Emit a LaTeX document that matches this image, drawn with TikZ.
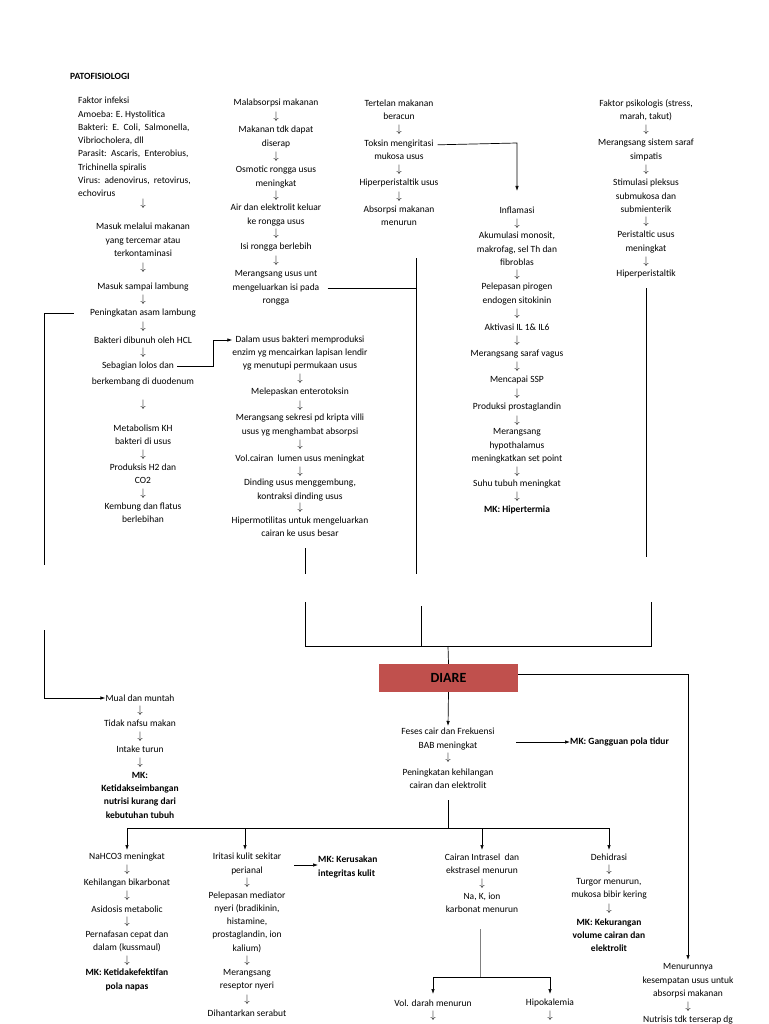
\documentclass[tikz,border=0pt]{standalone}
\usepackage{fontspec}
\setmainfont{Carlito}
\usetikzlibrary{arrows.meta}
\begin{document}
\begin{tikzpicture}[x=1pt,y=-1pt,
  t/.style={font=\fontsize{9.5}{13.3}\selectfont, align=center, inner sep=0pt},
  b/.style={t,font=\fontsize{9.5}{13.3}\selectfont\bfseries},
  dn/.style={t,font=\fontsize{11}{11}\selectfont},
  ln/.style={line width=0.7pt, black},
  ar/.style={ln,-{Latex[length=5pt,width=3.5pt]}}]
\useasboundingbox (0,0) rectangle (768,1024);
\node[b,anchor=west] (title) at (70,76) {PATOFISIOLOGI};
% column 1
\node[t,anchor=north west,align=left] (fi) at (78,97) {Faktor infeksi\\Amoeba: E. Hystolitica\\Bakteri:\ \ E.\ \ Coli,\ \ Salmonella,\\Vibriocholera, dll\\Parasit:\ \ Ascaris,\ \ Enterobius,\\Trichinella spiralis\\Virus:\ \ adenovirus,\ \ retovirus,\\echovirus};
\node[dn] (a1) at (143,204) {$\downarrow$};
\node[t] (c1b) at (143,240) {Masuk melalui makanan\\yang tercemar atau\\terkontaminasi};
\node[dn] (a2) at (143,268) {$\downarrow$};
\node[t] (c1c) at (143,287) {Masuk sampai lambung};
\node[dn] (a3) at (143,300) {$\downarrow$};
\node[t] (c1d) at (143,313) {Peningkatan asam lambung};
\node[dn] (a4) at (143,327) {$\downarrow$};
\node[t] (c1e) at (143,340) {Bakteri dibunuh oleh HCL};
\node[dn] (a5) at (143,353) {$\downarrow$};
\node[t] (c1f) at (138,366) {Sebagian lolos dan};
\node[t] (c1g) at (143,382) {berkembang di duodenum};
\node[dn] (a6) at (143,405) {$\downarrow$};
\node[t] (c1h) at (143,435) {Metabolism KH\\bakteri di usus};
\node[dn] (a7) at (143,455) {$\downarrow$};
\node[t] (c1i) at (143,474) {Produksis H2 dan\\CO2};
\node[dn] (a8) at (143,494) {$\downarrow$};
\node[t] (c1j) at (143,513) {Kembung dan flatus\\berlebihan};
% column 2
\node[t] (c2a) at (276,103) {Malabsorpsi makanan};
\node[dn] (b1) at (276,117) {$\downarrow$};
\node[t] (c2b) at (276,137) {Makanan tdk dapat\\diserap};
\node[dn] (b2) at (276,157) {$\downarrow$};
\node[t] (c2c) at (276,177) {Osmotic rongga usus\\meningkat};
\node[dn] (b3) at (276,196) {$\downarrow$};
\node[t] (c2d) at (276,215) {Air dan elektrolit keluar\\ke rongga usus};
\node[dn] (b4) at (276,234) {$\downarrow$};
\node[t] (c2e) at (276,247) {Isi rongga berlebih};
\node[dn] (b5) at (276,261) {$\downarrow$};
\node[t] (c2f) at (276,288) {Merangsang usus unt\\mengeluarkan isi pada\\rongga};
\node[t] (c2g) at (300,353) {Dalam usus bakteri memproduksi\\enzim yg mencairkan lapisan lendir\\yg menutupi permukaan usus};
\node[dn] (b6) at (300,379) {$\downarrow$};
\node[t] (c2h) at (300,392) {Melepaskan enterotoksin};
\node[dn] (b7) at (300,406) {$\downarrow$};
\node[t] (c2i) at (300,425) {Merangsang sekresi pd kripta villi\\usus yg menghambat absorpsi};
\node[dn] (b8) at (300,445) {$\downarrow$};
\node[t] (c2j) at (300,459) {Vol.cairan\ \ lumen usus meningkat};
\node[dn] (b9) at (300,472) {$\downarrow$};
\node[t] (c2k) at (300,490) {Dinding usus menggembung,\\kontraksi dinding usus};
\node[dn] (b10) at (300,508) {$\downarrow$};
\node[t] (c2l) at (300,527) {Hipermotilitas untuk mengeluarkan\\cairan ke usus besar};
% column 3
\node[t] (c3a) at (399,110) {Tertelan makanan\\beracun};
\node[dn] (d1) at (399,130) {$\downarrow$};
\node[t] (c3b) at (399,150) {Toksin mengiritasi\\mukosa usus};
\node[dn] (d2) at (399,170) {$\downarrow$};
\node[t] (c3c) at (399,183) {Hiperperistaltik usus};
\node[dn] (d3) at (399,197) {$\downarrow$};
\node[t] (c3d) at (399,216) {Absorpsi makanan\\menurun};
% column 4
\node[t] (c4a) at (517,210) {Inflamasi};
\node[dn] (e1) at (517,224) {$\downarrow$};
\node[t] (c4b) at (517,249) {Akumulasi monosit,\\makrofag, sel Th dan\\fibroblas};
\node[dn] (e2) at (517,275) {$\downarrow$};
\node[t] (c4c) at (517,294) {Pelepasan pirogen\\endogen sitokinin};
\node[dn] (e3) at (517,314) {$\downarrow$};
\node[t] (c4d) at (517,327) {Aktivasi IL 1\& IL6};
\node[dn] (e4) at (517,341) {$\downarrow$};
\node[t] (c4e) at (517,354) {Merangsang saraf vagus};
\node[dn] (e5) at (517,367) {$\downarrow$};
\node[t] (c4f) at (517,380) {Mencapai SSP};
\node[dn] (e6) at (517,394) {$\downarrow$};
\node[t] (c4g) at (517,407) {Produksi prostaglandin};
\node[dn] (e7) at (517,421) {$\downarrow$};
\node[t] (c4h) at (517,446) {Merangsang\\hypothalamus\\meningkatkan set point};
\node[dn] (e8) at (517,472) {$\downarrow$};
\node[t] (c4i) at (517,484) {Suhu tubuh meningkat};
\node[dn] (e9) at (517,497) {$\downarrow$};
\node[b] (c4j) at (517,510) {MK: Hipertermia};
% column 5
\node[t] (c5a) at (646,110) {Faktor psikologis (stress,\\marah, takut)};
\node[dn] (f1) at (646,130) {$\downarrow$};
\node[t] (c5b) at (646,150) {Merangsang sistem saraf\\simpatis};
\node[dn] (f2) at (646,170) {$\downarrow$};
\node[t] (c5c) at (646,196) {Stimulasi pleksus\\submukosa dan\\submienterik};
\node[dn] (f3) at (646,222) {$\downarrow$};
\node[t] (c5d) at (646,242) {Peristaltic usus\\meningkat};
\node[dn] (f4) at (646,262) {$\downarrow$};
\node[t] (c5e) at (646,274) {Hiperperistaltik};
% upper connectors
\coordinate (j1) at (416,258);
\coordinate (j2) at (416,574);
\coordinate (inftip) at (517,191);
\draw[ln] (c2f.east |- 0,288) ++(8,0) coordinate (m1) -- (416,288);
\draw[ln] (j1) -- (j2);
\draw[ar] (c3b.north east) ++(4,5) coordinate (m2) -- (517,143) -- (inftip);
\draw[ar] (c1f.east) ++(3,0) -- (213,366) -- (213,340) -- (c2g.west |- 0,340);
\draw[ln] (44,313) -- (74,313);
\draw[ln] (44,313) -- (44,565);
\draw[ln] (305,548) -- (305,574);
\draw[ln] (646,288) -- (646,557);
% merge to DIARE
\draw[ln] (305,602) -- (305,646) -- (651,646) -- (651,602);
\draw[ln] (421,606) -- (421,646);
\node[fill={rgb,255:red,192;green,80;blue,77}, minimum width=139pt, minimum height=28pt, font=\fontsize{14}{16}\selectfont\bfseries, inner sep=0pt] (diare) at (448.5,678) {DIARE};
\draw[ln] (448,646) -- (diare.north);
\node[t] (c6a) at (140,698) {Mual dan muntah};
\draw[ar] (44,630) -- (44,698) -- (c6a.west);
\node[dn] (g1) at (140,711) {$\downarrow$};
\node[t] (c6b) at (140,723) {Tidak nafsu makan};
\node[dn] (g2) at (140,737) {$\downarrow$};
\node[t] (c6c) at (140,749) {Intake turun};
\node[dn] (g3) at (140,763) {$\downarrow$};
\node[b] (c6d) at (140,795) {MK:\\Ketidakseimbangan\\nutrisi kurang dari\\kebutuhan tubuh};
% center below diare
\node[t] (c7a) at (448,739) {Feses cair dan Frekuensi\\BAB meningkat};
\coordinate (fetip) at (448,726);
\draw[ar] (diare.south) -- (fetip);
\node[dn] (h1) at (448,758) {$\downarrow$};
\node[t] (c7b) at (448,779) {Peningkatan kehilangan\\cairan dan elektrolit};
\node[b,anchor=west] (mkg) at (570,742) {MK: Gangguan pola tidur};
\draw[ar] (516,742) -- (mkg.west);
% right vertical
\node[t] (c8a) at (688,981) {Menurunnya\\kesempatan usus untuk\\absorpsi makanan};
\node[dn] (i1) at (688,1007) {$\downarrow$};
\node[t] (c8b) at (688,1020) {Nutrisis tdk terserap dg};
\draw[ar] (diare.east |- 0,674) -- (688,674) -- (688,960);
% branch
\draw[ln] (448,800) -- (448,828);
\draw[ln] (127,828) -- (609,828);
\foreach \xx in {127,245,482,609} \draw[ar] (\xx,828) -- (\xx,850);
% branch 1
\node[t] (k1) at (127,857) {NaHCO3 meningkat};
\node[dn] (k1a) at (127,870) {$\downarrow$};
\node[t] (k2) at (127,883) {Kehilangan bikarbonat};
\node[dn] (k2a) at (127,896) {$\downarrow$};
\node[t] (k3) at (127,909) {Asidosis metabolic};
\node[dn] (k3a) at (127,922) {$\downarrow$};
\node[t] (k4) at (127,941) {Pernafasan cepat dan\\dalam (kussmaul)};
\node[dn] (k4a) at (127,961) {$\downarrow$};
\node[b] (k5) at (127,980) {MK: Ketidakefektifan\\pola napas};
% branch 2
\node[t] (l1) at (247,864) {Iritasi kulit sekitar\\perianal};
\node[b,align=left,anchor=west] (l1m) at (318,867) {MK: Kerusakan\\integritas kulit};
\draw[ar] (294,865) -- (l1m.west |- 0,865);
\node[dn] (l1a) at (247,883) {$\downarrow$};
\node[t] (l2) at (247,922) {Pelepasan mediator\\nyeri (bradikinin,\\histamine,\\prostaglandin, ion\\kalium)};
\node[dn] (l2a) at (247,961) {$\downarrow$};
\node[t] (l3) at (247,980) {Merangsang\\reseptor nyeri};
\node[dn] (l3a) at (247,1000) {$\downarrow$};
\node[t] (l4) at (247,1013) {Dihantarkan serabut};
% branch 3
\node[t] (m1n) at (482,864) {Cairan Intrasel\ \ dan\\ekstrasel menurun};
\node[dn] (m1a) at (482,884) {$\downarrow$};
\node[t] (m2n) at (482,903) {Na, K, ion\\karbonat menurun};
\draw[line width=0.6pt,gray] (480,929) -- (480,977);
\draw[ln] (433,977) -- (550,977);
\draw[ar] (433,977) -- (433,994);
\draw[ar] (550,977) -- (550,994);
\node[t] (m3) at (433,1003) {Vol. darah menurun};
\node[dn] (m3a) at (433,1016) {$\downarrow$};
\node[t] (m4) at (550,1003) {Hipokalemia};
\node[dn] (m4a) at (550,1016) {$\downarrow$};
% branch 4
\node[t] (n1) at (609,857) {Dehidrasi};
\node[dn] (n1a) at (609,870) {$\downarrow$};
\node[t] (n2) at (609,889) {Turgor menurun,\\mukosa bibir kering};
\node[dn] (n2a) at (609,909) {$\downarrow$};
\node[b] (n3) at (609,935) {MK: Kekurangan\\volume cairan dan\\elektrolit};
\end{tikzpicture}
\end{document}
